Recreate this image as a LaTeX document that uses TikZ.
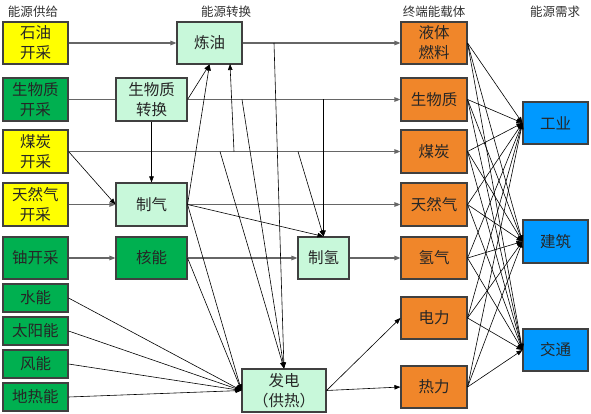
\documentclass[tikz,border=0pt]{standalone}
\usepackage{fontspec}
\newfontfamily\cjk{Noto Sans CJK SC}
\usetikzlibrary{arrows.meta,calc}
\definecolor{cyel}{HTML}{FFFF00}
\definecolor{cgrn}{HTML}{00B050}
\definecolor{clgt}{HTML}{C8F8DA}
\definecolor{corg}{HTML}{F0862A}
\definecolor{cblu}{HTML}{0099FF}
\definecolor{cbrd}{HTML}{404040}
\definecolor{cflow}{HTML}{666666}
\tikzset{
  box/.style={draw=cbrd, line width=1.1pt, rectangle, inner sep=0pt, align=center,
    font=\cjk\fontsize{15.5}{20}\selectfont, text=black!85},
  supply/.style={box, minimum width=65pt},
  conv/.style={box, fill=clgt},
  carrier/.style={box, fill=corg, minimum width=66pt, minimum height=42pt},
  demand/.style={box, fill=cblu, minimum width=65pt, minimum height=42pt},
  hdr/.style={font=\cjk\fontsize{12.5}{14}\selectfont, text=black!80},
  flow/.style={draw=cflow, line width=1.1pt, -{Triangle[length=6pt,width=4.5pt]}},
  flowplain/.style={draw=cflow, line width=1.1pt},
  link/.style={draw=black, line width=0.6pt, -{Triangle[length=6pt,width=4.5pt]}},
}
\begin{document}
\begin{tikzpicture}[x=1pt,y=-1pt]
\useasboundingbox[fill=white] (0,0) rectangle (591,414);
% headers
\node[hdr] (h1) at (33,12) {能源供给};
\node[hdr] (h2) at (226,12) {能源转换};
\node[hdr] (h3) at (434,12) {终端能载体};
\node[hdr] (h4) at (555,12) {能源需求};
% supply
\node[supply, fill=cyel, minimum height=42pt] (s1) at (35.5,43) {石油\\开采};
\node[supply, fill=cgrn, minimum height=43pt] (s2) at (35.5,99.5) {生物质\\开采};
\node[supply, fill=cyel, minimum height=43pt] (s3) at (35.5,151.5) {煤炭\\开采};
\node[supply, fill=cyel, minimum height=43pt] (s4) at (35.5,204.5) {天然气\\开采};
\node[supply, fill=cgrn, minimum height=42pt] (s5) at (35.5,258) {铀开采};
\node[supply, fill=cgrn, minimum height=28pt] (s6) at (35.5,298) {水能};
\node[supply, fill=cgrn, minimum height=28pt] (s7) at (35.5,331) {太阳能};
\node[supply, fill=cgrn, minimum height=28pt] (s8) at (35.5,364) {风能};
\node[supply, fill=cgrn, minimum height=28pt] (s9) at (35.5,397) {地热能};
% conversion
\node[conv, minimum width=65pt, minimum height=42pt] (c1) at (209.5,43) {炼油};
\node[conv, minimum width=71pt, minimum height=43pt] (c2) at (151.5,99.5) {生物质\\转换};
\node[conv, minimum width=71pt, minimum height=43pt] (c3) at (151.5,204.5) {制气};
\node[box, fill=cgrn, minimum width=71pt, minimum height=42pt] (c4) at (151.5,258) {核能};
\node[conv, minimum width=51pt, minimum height=42pt] (c5) at (323.5,258) {制氢};
\node[conv, minimum width=84pt, minimum height=43pt] (c6) at (284,390.5) {发电\\（供热）};
% carriers
\node[carrier] (e1) at (434,43) {液体\\燃料};
\node[carrier, minimum height=43pt] (e2) at (434,99.5) {生物质};
\node[carrier, minimum height=43pt] (e3) at (434,151.5) {煤炭};
\node[carrier, minimum height=43pt] (e4) at (434,204.5) {天然气};
\node[carrier] (e5) at (434,258) {氢气};
\node[carrier] (e6) at (434,318) {电力};
\node[carrier] (e7) at (434,387) {热力};
% demand
\node[demand] (d1) at (555.5,123) {工业};
\node[demand, minimum height=43pt] (d2) at (555.5,241.5) {建筑};
\node[demand] (d3) at (555.5,350) {交通};
% branch points
\coordinate (b1) at (274,43);
\coordinate (b2) at (242,99.5);
\coordinate (b3) at (323.5,99.5);
\coordinate (b4) at (220,151.5);
\coordinate (b5) at (234,151.5);
\coordinate (b6) at (298,151.5);
\coordinate (t1) at (230,64);
% main flows
\draw[flow] (s1) -- (c1);
\draw[flow] (c1) -- (e1);
\draw[flowplain] (s2) -- (c2);
\draw[flow] (c2) -- (e2);
\draw[flow] (s3) -- (e3);
\draw[flow] (s4) -- (c3);
\draw[flow] (c3) -- (e4);
\draw[flow] (s5) -- (c4);
\draw[flow] (c4) -- (c5);
\draw[flow] (c5) -- (e5);
% conversion links
\draw[link] (c2.east) -- (c1.south);
\draw[link] (c2.south) -- (c3.north);
\draw[link] (s3.east) -- (c3.west);
\draw[link] (c3.east) -- (c1.south);
\draw[link] (b5) -- (t1);
\draw[link] (b1) -- (c6.north);
\draw[link] (b2) -- (c6.north);
\draw[link] (b4) -- (c6.north);
\draw[link] (b3) -- (c5.north);
\draw[link] (b6) -- (c5.north);
\draw[link] (c3.east) -- (c5.north);
\draw[link] (c3.east) -- (c6.west);
\draw[link] (c4.east) -- (c6.west);
\draw[link] (s6.east) -- (c6.west);
\draw[link] (s7.east) -- (c6.west);
\draw[link] (s8.east) -- (c6.west);
\draw[link] (s9.east) -- (c6.west);
\draw[link] (c6.east) -- (e6.west);
\draw[link] (c6.east) -- (e7.west);
% carriers to demand
\foreach \e in {e1,e2,e3,e4,e5,e6,e7}{
  \foreach \d in {d1,d2,d3}{
    \draw[link] (\e.east) -- (\d.west);
  }
}
\end{tikzpicture}
\end{document}
